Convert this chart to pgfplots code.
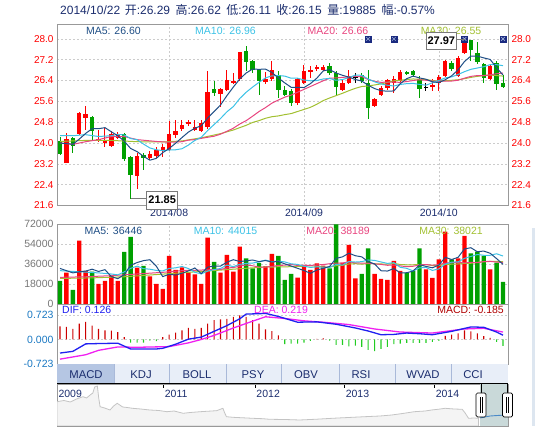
\documentclass[border=0pt]{standalone}
\usepackage{pgfplots}
\pgfplotsset{compat=1.18}
\usepackage{pgfplotstable}
\usepackage{fontspec}
\setmainfont{Liberation Sans}
\newfontfamily\cjk{Noto Sans CJK SC}

\definecolor{cred}{HTML}{FF0000}
\definecolor{cgreen}{HTML}{00A000}
\definecolor{navy}{HTML}{1B2D6E}
\definecolor{ma5}{HTML}{1F4E85}
\definecolor{ma10}{HTML}{3CC2E6}
\definecolor{ma20}{HTML}{E8457F}
\definecolor{ma30}{HTML}{A2C031}
\definecolor{framec}{HTML}{999999}
\definecolor{gridc}{HTML}{CCCCCC}
\definecolor{volc}{HTML}{777777}
\definecolor{macdlab}{HTML}{1A78C2}
\definecolor{difc}{HTML}{2020F0}
\definecolor{deac}{HTML}{F020F0}
\definecolor{macdt}{HTML}{B00000}
\definecolor{histr}{HTML}{CC0000}
\definecolor{histg}{HTML}{22CC22}
\definecolor{tabbg}{HTML}{E8EEF8}
\definecolor{tabact}{HTML}{B5C6E3}
\definecolor{tabsep}{HTML}{A9B9D9}
\definecolor{navline}{HTML}{C4C4C4}
\definecolor{navfill}{HTML}{F4F4F4}
\definecolor{navwin}{HTML}{C9D9D9}
\definecolor{navblue}{HTML}{4A8AC8}
\definecolor{mkr}{HTML}{1A2A80}
\definecolor{mkrx}{HTML}{A0B0D8}
\definecolor{strip}{HTML}{DDE6F0}

% red (up) candles: index open high low close volume
\pgfplotstableread{
i o h l c v
1 23.24 24.40 23.22 24.17 28200
3 24.33 25.20 24.30 25.14 57000
4 24.97 25.42 24.50 25.10 29700
6 24.12 24.50 24.05 24.17 18000
7 24.01 24.58 23.85 24.10 20700
8 23.88 24.45 23.85 24.33 25500
9 24.20 24.42 24.15 24.36 20700
12 22.75 23.60 22.24 23.52 32700
14 23.42 23.70 23.35 23.59 24800
15 23.51 23.85 23.42 23.75 18000
16 23.69 23.95 23.45 23.84 13600
17 23.75 24.84 23.70 24.33 43200
18 24.29 24.90 24.20 24.46 30600
19 24.52 24.90 24.45 24.68 33000
20 24.72 24.90 24.65 24.80 28500
21 24.50 24.90 24.45 24.60 26700
22 24.47 24.90 24.42 24.76 18000
23 24.60 26.78 24.55 25.95 59700
25 25.88 26.12 25.40 26.06 28200
26 26.05 26.80 26.00 26.42 44300
27 26.33 26.68 26.25 26.38 29100
28 26.46 27.50 26.40 27.50 51600
32 26.36 26.72 26.28 26.45 34000
33 26.46 27.14 26.40 26.82 45000
37 25.54 26.50 25.47 26.44 23700
38 26.31 27.01 26.25 26.78 35100
39 26.72 26.97 26.50 26.79 30600
40 26.86 27.01 26.76 26.92 36600
41 26.82 26.98 26.78 26.92 34500
44 26.03 26.44 25.99 26.31 37200
45 26.31 26.82 26.25 26.56 53100
49 25.41 25.72 25.38 25.69 27000
50 25.86 26.20 25.80 26.12 22500
51 26.12 26.46 26.05 26.41 21600
52 26.31 26.56 25.92 26.44 38700
53 26.37 26.82 26.30 26.72 29700
58 26.15 26.44 25.99 26.24 23400
59 26.31 26.63 25.99 26.54 40200
60 26.59 27.20 26.55 27.14 65100
62 26.59 27.33 26.55 27.27 41100
63 27.46 27.91 27.40 27.85 61200
67 26.46 27.00 26.43 26.97 31200
}\upT

% green (down) candles
\pgfplotstableread{
i o h l c v
0 24.09 24.25 23.55 23.59 20700
2 24.20 24.22 23.62 23.87 12600
5 25.01 25.05 24.07 24.46 29100
10 24.33 24.40 23.30 23.37 47000
11 23.45 23.50 21.85 22.78 60500
13 23.55 23.62 22.97 23.43 34200
24 26.06 26.38 25.80 25.93 38000
29 27.53 27.72 26.75 27.10 41000
30 27.15 27.20 26.70 26.79 32000
31 26.82 26.82 25.86 26.37 37000
34 26.63 26.76 25.73 26.05 43300
35 26.05 26.18 25.82 25.86 21600
36 26.01 26.08 25.41 25.54 27000
42 26.97 27.08 26.60 26.69 32100
43 26.69 26.75 25.86 26.15 71700
47 26.63 26.70 26.30 26.37 27000
48 26.31 26.82 24.92 25.35 50100
54 26.72 26.78 26.60 26.68 28200
55 26.77 26.80 26.55 26.60 30000
56 26.46 26.59 25.73 26.08 50100
61 27.08 27.14 26.76 26.85 40200
64 27.95 27.97 27.15 27.59 45600
65 27.44 27.87 27.05 27.13 47100
66 27.05 27.08 26.31 26.50 43200
68 27.08 27.14 26.05 26.28 37200
69 26.29 26.62 26.11 26.15 19885
}\dnT

% flat candles
\pgfplotstableread{
i o h l c v
46 26.50 26.69 26.31 26.50 23100
57 26.15 26.30 26.00 26.15 31200
}\flT

\pgfplotsset{
  panel/.style={scale only axis, width=451pt, anchor=south west,
    xmin=-0.47, xmax=69.78,
    axis line style={draw=framec, line width=0.8pt},
    major tick length=0pt,
    /pgf/number format/assume math mode=true,
    grid style={draw=gridc, dash pattern=on 2pt off 2pt, line width=0.6pt},
    tick label style={font=\fontsize{10}{12}\selectfont}},
  wick/.style={only marks, no markers, mark size=0pt, forget plot, error bars/.cd, y dir=both, y explicit, error mark=none, error bar style={line width=1pt, draw=#1}},
  body/.style={only marks, no markers, mark size=0pt, forget plot, error bars/.cd, y dir=both, y explicit, error mark=none, error bar style={line width=4.4pt, draw=#1}},
}

\begin{document}
\begin{tikzpicture}
\useasboundingbox (0pt,0pt) rectangle (535pt,430pt);
\fill[strip] (532pt,4pt) rectangle (535pt,202pt);

% ---------------- price panel ----------------
\begin{axis}[panel, at={(57pt,224.5pt)}, height=181.2pt, ymin=21.6, ymax=28.56,
  ytick={21.6,22.4,23.2,24.0,24.8,25.6,26.4,27.2,28.0},
  yticklabels={21.6,22.4,23.2,24.0,24.8,25.6,26.4,27.2,28.0},
  yticklabel style={text=cred},
  xtick={17,38,59}, xticklabels={2014/08,2014/09,2014/10},
  xticklabel style={text=navy, font=\fontsize{10.5}{12}\selectfont},
  xmajorgrids, ymajorgrids]
\addplot[wick=cred] table[x=i, y expr={(\thisrow{h}+\thisrow{l})/2}, y error expr={(\thisrow{h}-\thisrow{l})/2}] {\upT};
\addplot[body=cred] table[x=i, y expr={(\thisrow{o}+\thisrow{c})/2}, y error expr={abs(\thisrow{o}-\thisrow{c})/2}] {\upT};
\addplot[wick=cgreen] table[x=i, y expr={(\thisrow{h}+\thisrow{l})/2}, y error expr={(\thisrow{h}-\thisrow{l})/2}] {\dnT};
\addplot[body=cgreen] table[x=i, y expr={(\thisrow{o}+\thisrow{c})/2}, y error expr={abs(\thisrow{o}-\thisrow{c})/2}] {\dnT};
\addplot[wick=black] table[x=i, y expr={(\thisrow{h}+\thisrow{l})/2}, y error expr={(\thisrow{h}-\thisrow{l})/2}] {\flT};
\addplot[only marks, mark=-, mark size=2.3pt, mark options={line width=1pt, draw=black}, forget plot] table[x=i, y=c] {\flT};
% MA lines
\addplot[ma30, line width=1pt] coordinates {(0,24.06) (4,24.10) (8,24.10) (12,24.05) (16,24.04) (19,24.08) (22,24.20) (25,24.36) (27,24.50) (29,24.68) (30,24.79) (31,24.86) (32,24.95) (33,25.01) (34,25.04) (35,25.09) (36,25.13) (37,25.21) (38,25.29) (39,25.37) (40,25.49) (41,25.63) (42,25.73) (43,25.82) (44,25.91) (45,26.01) (46,26.10) (47,26.17) (48,26.19) (49,26.23) (50,26.27) (51,26.33) (52,26.39) (53,26.41) (54,26.44) (55,26.46) (56,26.45) (57,26.44) (58,26.40) (59,26.38) (60,26.39) (61,26.41) (62,26.43) (63,26.47) (64,26.52) (65,26.56) (66,26.59) (67,26.61) (68,26.59) (69,26.57)};
\addplot[ma20, line width=1pt] coordinates {(0,24.00) (2,23.95) (4,24.05) (6,24.13) (8,24.25) (10,24.25) (12,24.13) (15,24.06) (17,24.03) (19,24.05) (20,24.11) (21,24.13) (22,24.18) (23,24.22) (24,24.26) (25,24.34) (26,24.45) (27,24.57) (28,24.73) (29,24.86) (30,25.03) (31,25.21) (32,25.36) (33,25.53) (34,25.65) (35,25.76) (36,25.84) (37,25.95) (38,26.06) (39,26.17) (40,26.28) (41,26.39) (42,26.49) (43,26.50) (44,26.52) (45,26.54) (46,26.55) (47,26.55) (48,26.44) (49,26.37) (50,26.33) (51,26.34) (52,26.34) (53,26.33) (54,26.36) (55,26.40) (56,26.43) (57,26.41) (58,26.38) (59,26.37) (60,26.38) (61,26.38) (62,26.41) (63,26.49) (64,26.56) (65,26.59) (66,26.59) (67,26.62) (68,26.66) (69,26.69)};
\addplot[ma10, line width=1pt] coordinates {(0,24.28) (2,24.28) (4,24.32) (6,24.25) (8,24.28) (9,24.33) (10,24.31) (11,24.17) (12,24.13) (13,23.96) (14,23.81) (15,23.74) (16,23.71) (17,23.73) (18,23.74) (19,23.78) (20,23.92) (21,24.10) (22,24.22) (23,24.48) (24,24.71) (25,24.94) (26,25.20) (27,25.40) (28,25.71) (29,25.95) (30,26.15) (31,26.33) (32,26.50) (33,26.58) (34,26.59) (35,26.57) (36,26.49) (37,26.49) (38,26.42) (39,26.39) (40,26.40) (41,26.46) (42,26.48) (43,26.41) (44,26.44) (45,26.51) (46,26.61) (47,26.60) (48,26.46) (49,26.35) (50,26.27) (51,26.22) (52,26.19) (53,26.25) (54,26.28) (55,26.29) (56,26.25) (57,26.22) (58,26.31) (59,26.40) (60,26.50) (61,26.54) (62,26.63) (63,26.74) (64,26.83) (65,26.88) (66,26.93) (67,27.01) (68,27.01) (69,26.97)};
\addplot[ma5, line width=1pt] coordinates {(0,24.00) (2,23.95) (3,24.15) (4,24.37) (5,24.55) (6,24.55) (7,24.59) (8,24.43) (9,24.28) (10,24.07) (11,23.79) (12,23.67) (13,23.49) (14,23.34) (15,23.41) (16,23.63) (17,23.79) (18,23.99) (19,24.21) (20,24.42) (21,24.57) (22,24.66) (23,24.96) (24,25.21) (25,25.46) (26,25.82) (27,26.15) (28,26.46) (29,26.69) (30,26.84) (31,26.83) (32,26.84) (33,26.71) (34,26.50) (35,26.31) (36,26.14) (37,26.14) (38,26.13) (39,26.28) (40,26.49) (41,26.77) (42,26.82) (43,26.69) (44,26.60) (45,26.53) (46,26.44) (47,26.38) (48,26.22) (49,26.09) (50,26.01) (51,25.99) (52,26.00) (53,26.28) (54,26.47) (55,26.57) (56,26.50) (57,26.45) (58,26.35) (59,26.32) (60,26.43) (61,26.58) (62,26.81) (63,27.13) (64,27.34) (65,27.34) (66,27.27) (67,27.21) (68,26.89) (69,26.61)};
% event markers
\addplot[only marks, mark=square*, mark size=2.9pt, mark options={fill=mkr, draw=mkr}] coordinates {(48,28.0) (52,28.0) (63,28.0) (69,28.0)};
\addplot[only marks, mark=x, mark size=2.6pt, mark options={draw=mkrx, line width=0.6pt}] coordinates {(48,28.0) (52,28.0) (63,28.0) (69,28.0)};
\end{axis}
% right-hand price labels
\begin{axis}[panel, at={(57pt,224.5pt)}, height=181.2pt, ymin=21.6, ymax=28.56,
  axis x line=none, axis y line*=right, axis line style={draw=none},
  ytick={21.6,22.4,23.2,24.0,24.8,25.6,26.4,27.2,28.0},
  yticklabels={21.6,22.4,23.2,24.0,24.8,25.6,26.4,27.2,28.0},
  yticklabel style={text=cred}]
\addplot[draw=none] coordinates {(0,25)};
\end{axis}

% ---------------- volume panel ----------------
\begin{axis}[panel, at={(57pt,126pt)}, height=80pt, ymin=0, ymax=72000,
  scaled y ticks=false,
  ytick={0,18000,36000,54000,72000}, yticklabels={0,18000,36000,54000,72000},
  yticklabel style={text=volc, font=\fontsize{10.5}{12}\selectfont},
  xtick={17,38,59}, xticklabels={}, xmajorgrids, ymajorgrids]
\addplot[ybar, bar width=4.4pt, bar shift=0pt, fill=cred, draw=none] table[x=i, y=v] {\upT};
\addplot[ybar, bar width=4.4pt, bar shift=0pt, fill=cred, draw=none] table[x=i, y=v] {\flT};
\addplot[ybar, bar width=4.4pt, bar shift=0pt, fill=cgreen, draw=none] table[x=i, y=v] {\dnT};
\addplot[ma30, line width=1pt] coordinates {(0,23000) (5,23500) (10,24500) (15,26500) (20,28500) (25,30500) (29,32163) (30,32540) (31,32833) (32,33547) (33,33147) (34,33600) (35,33350) (36,33650) (37,33750) (38,34070) (39,34400) (40,34053) (41,33187) (42,33167) (43,34417) (44,34830) (45,36000) (46,36317) (47,35777) (48,36427) (49,36227) (50,36027) (51,35857) (52,36547) (53,35547) (54,35220) (55,35280) (56,35473) (57,35543) (58,34603) (59,34577) (60,35680) (61,35787) (62,36023) (63,36563) (64,36640) (65,37490) (66,38030) (67,38280) (68,38350) (69,37993)};
\addplot[ma20, line width=1pt] coordinates {(0,24000) (4,24500) (8,25500) (12,27000) (16,28500) (19,29990) (20,30380) (21,30305) (22,30575) (23,30710) (24,31125) (25,31080) (26,32395) (27,32815) (28,34120) (29,35135) (30,34385) (31,33210) (32,33275) (33,33815) (34,34740) (35,34920) (36,35590) (37,34615) (38,34840) (39,34720) (40,35125) (41,35515) (42,36220) (43,36820) (44,36780) (45,38025) (46,36965) (47,36860) (48,36785) (49,36085) (50,35610) (51,34840) (52,35075) (53,34310) (54,33555) (55,33975) (56,35130) (57,35505) (58,34920) (59,35400) (60,36825) (61,37110) (62,37560) (63,37035) (64,37455) (65,37155) (66,38160) (67,38370) (68,37725) (69,37369)};
\addplot[ma10, line width=1pt] coordinates {(0,30000) (3,29000) (6,28000) (8,27000) (9,26220) (10,28850) (11,32080) (12,34090) (13,31810) (14,31320) (15,30210) (16,29770) (17,32020) (18,32530) (19,33760) (20,31910) (21,28530) (22,27060) (23,29610) (24,30930) (25,31950) (26,35020) (27,33610) (28,35710) (29,36510) (30,36860) (31,37890) (32,39490) (33,38020) (34,38550) (35,37890) (36,36160) (37,35620) (38,33970) (39,32930) (40,33390) (41,33140) (42,32950) (43,35620) (44,35010) (45,38160) (46,37770) (47,38100) (48,39600) (49,39240) (50,37830) (51,36540) (52,37200) (53,33000) (54,32100) (55,29790) (56,32490) (57,32910) (58,30240) (59,31560) (60,35820) (61,37680) (62,37920) (63,41070) (64,42810) (65,44520) (66,43830) (67,43830) (68,45210) (69,43179)};
\addplot[ma5, line width=1pt] coordinates {(0,32000) (1,30000) (2,28000) (3,29000) (4,29640) (5,31320) (6,29280) (7,30900) (8,24600) (9,22800) (10,26380) (11,34880) (12,37280) (13,39020) (14,39840) (15,34040) (16,24660) (17,26760) (18,26040) (19,27680) (20,29780) (21,32400) (22,27360) (23,33180) (24,34180) (25,34120) (26,37640) (27,39860) (28,38240) (29,38840) (30,39600) (31,38140) (32,39120) (33,37800) (34,38260) (35,36180) (36,34180) (37,32120) (38,30140) (39,27600) (40,30600) (41,32100) (42,33780) (43,41100) (44,42420) (45,45720) (46,43440) (47,42420) (48,38100) (49,36060) (50,29940) (51,29640) (52,31980) (53,27900) (54,28140) (55,29640) (56,35340) (57,33840) (58,32580) (59,34980) (60,42000) (61,40020) (62,42000) (63,49560) (64,50640) (65,47040) (66,47640) (67,45660) (68,40860) (69,35717)};
\end{axis}

% ---------------- MACD panel ----------------
\begin{axis}[panel, at={(57pt,66pt)}, height=60pt, ymin=-0.723, ymax=1.047,
  ytick={-0.723,0,0.723}, yticklabels={-0.723,0.000,0.723},
  yticklabel style={text=macdlab, font=\fontsize{10.5}{12}\selectfont},
  xtick=\empty, ymajorgrids]
\addplot[ybar, bar width=1.1pt, bar shift=0pt, fill=histr, draw=none] coordinates {(0,0.39) (1,0.37) (2,0.31) (3,0.47) (4,0.52) (5,0.41) (6,0.31) (7,0.27) (8,0.26) (9,0.22) (10,0.07) (16,0.07) (17,0.14) (18,0.20) (19,0.27) (20,0.34) (21,0.31) (22,0.34) (23,0.47) (24,0.57) (25,0.59) (26,0.61) (27,0.67) (28,0.71) (29,0.67) (30,0.57) (31,0.47) (32,0.30) (33,0.25) (34,0.12) (40,0.02) (41,0.03) (60,0.11) (61,0.14) (62,0.18) (63,0.27) (64,0.24) (65,0.18) (66,0.10) (67,0.05)};
\addplot[ybar, bar width=1.1pt, bar shift=0pt, fill=histg, draw=none] coordinates {(11,-0.09) (12,-0.09) (13,-0.09) (14,-0.03) (15,-0.05) (35,-0.14) (36,-0.12) (37,-0.12) (38,-0.09) (39,-0.04) (42,-0.03) (43,-0.16) (44,-0.16) (45,-0.20) (46,-0.18) (47,-0.22) (48,-0.31) (49,-0.34) (50,-0.28) (51,-0.22) (52,-0.14) (53,-0.12) (54,-0.10) (55,-0.10) (56,-0.10) (57,-0.10) (58,-0.07) (59,-0.04) (68,-0.07) (69,-0.185)};
\addplot[deac, line width=1.3pt] coordinates {(0,-0.58) (4,-0.45) (6,-0.32) (9,-0.22) (12,-0.23) (17,-0.21) (20,-0.10) (22,0.00) (24,0.12) (27,0.34) (30,0.54) (32,0.67) (35,0.62) (38,0.55) (41,0.51) (45,0.44) (49,0.31) (53,0.22) (58,0.19) (63,0.31) (66,0.33) (69,0.219)};
\addplot[difc, line width=1.3pt] coordinates {(0,-0.40) (2,-0.35) (4,-0.13) (6,-0.12) (9,-0.11) (11,-0.28) (15,-0.28) (16,-0.26) (18,-0.14) (20,0.01) (22,0.07) (24,0.24) (26,0.41) (28,0.61) (29,0.75) (31,0.76) (32,0.77) (34,0.68) (37,0.51) (40,0.52) (43,0.45) (46,0.34) (48,0.25) (50,0.14) (52,0.15) (54,0.19) (56,0.17) (58,0.14) (61,0.24) (64,0.37) (66,0.36) (68,0.22) (69,0.126)};
\end{axis}

% ---------------- navigator ----------------
\begin{axis}[scale only axis, width=451pt, height=42pt, at={(57pt,4pt)}, anchor=south west,
  xmin=2009.823, xmax=2014.817, ymin=0, ymax=42,
  axis line style={draw=framec, line width=0.8pt},
  ytick=\empty,
  xtick={2009.823,2011,2012.015,2013.004,2014}, xticklabels={2009,2011,2012,2013,2014},
  xtick pos=right, xticklabel pos=right,
  major tick length=4pt, tick align=inside, tick style={draw=black, line width=0.8pt},
  xticklabel style={anchor=north west, text=navy, font=\fontsize{10.5}{12}\selectfont, yshift=-2.5pt, xshift=-2pt}]
\addplot[fill=navfill, draw=navline, line width=0.8pt] coordinates {(2009.823,24.3) (2009.90,25.5) (2009.97,24) (2010.04,27) (2010.11,29.3) (2010.15,28) (2010.19,31) (2010.22,33) (2010.24,39) (2010.27,40) (2010.285,28) (2010.30,19.3) (2010.35,18) (2010.41,16) (2010.45,20) (2010.49,22.7) (2010.55,19) (2010.60,18.5) (2010.66,17.7) (2010.75,17) (2010.85,16) (2010.95,15.5) (2011.04,14.3) (2011.12,15) (2011.22,12.7) (2011.30,13.5) (2011.41,14.3) (2011.50,14.8) (2011.59,15.3) (2011.66,17.7) (2011.68,13) (2011.70,9.3) (2011.77,8.7) (2011.88,8.2) (2011.99,7.7) (2012.10,7.3) (2012.18,6.7) (2012.35,6.5) (2012.51,6) (2012.70,6.8) (2012.87,7.7) (2013.05,8.5) (2013.23,9.3) (2013.40,10) (2013.53,11) (2013.65,12.5) (2013.78,14.3) (2013.90,15) (2013.97,16) (2014.05,16.8) (2014.12,17.7) (2014.22,17) (2014.31,16.7) (2014.34,13.3) (2014.38,7.7) (2014.44,8) (2014.49,7.7)} \closedcycle;
\addplot[fill=navwin, draw=none] coordinates {(2014.51,0) (2014.51,42) (2014.817,42) (2014.817,0)} -- cycle;
\addplot[navblue, line width=0.9pt] coordinates {(2014.51,8) (2014.56,9) (2014.62,10) (2014.70,10.5) (2014.79,11) (2014.817,11)};
\end{axis}
\draw[black, line width=1pt] (57pt,46pt) -- (508pt,46pt);
\draw[black, line width=0.8pt] (481pt,46pt) -- (481pt,37pt);
\draw[black, line width=0.8pt] (507.5pt,46pt) -- (507.5pt,37pt);
\draw[black, line width=0.7pt, fill=white, rounded corners=1.5pt] (476pt,13pt) rectangle (486pt,37pt);
\draw[black, line width=0.7pt] (480pt,17pt) -- (480pt,33pt) (482pt,17pt) -- (482pt,33pt);
\draw[black, line width=0.7pt, fill=white, rounded corners=1.5pt] (502.5pt,13pt) rectangle (512.5pt,37pt);
\draw[black, line width=0.7pt] (506.5pt,17pt) -- (506.5pt,33pt) (508.5pt,17pt) -- (508.5pt,33pt);

% ---------------- tab bar ----------------
\fill[tabbg] (57pt,47pt) rectangle (508pt,66pt);
\fill[tabact] (57pt,47pt) rectangle (114pt,66pt);
\foreach \xx in {114,169.3,226,281.7,339,395,451} {\draw[tabsep, line width=0.8pt] (\xx pt,47pt) -- (\xx pt,66pt);}
\begin{scope}[every node/.style={anchor=base, inner sep=0pt, text=navy, font=\fontsize{11.3}{13}\selectfont}]
\node at (86pt,51.7pt) {MACD};
\node at (141pt,51.7pt) {KDJ};
\node at (197pt,51.7pt) {BOLL};
\node at (253pt,51.7pt) {PSY};
\node at (306pt,51.7pt) {OBV};
\node at (361pt,51.7pt) {RSI};
\node at (423pt,51.7pt) {WVAD};
\node at (473pt,51.7pt) {CCI};
\end{scope}

% ---------------- texts ----------------
\node[anchor=base west, inner sep=0pt, text=navy, font=\fontsize{12}{14}\selectfont] at (60pt,415pt)
  {2014/10/22\hspace{4.5pt}{\cjk 开}:26.29\hspace{5.5pt}{\cjk 高}:26.62\hspace{5.5pt}{\cjk 低}:26.11\hspace{5.5pt}{\cjk 收}:26.15\hspace{5.5pt}{\cjk 量}:19885\hspace{5.5pt}{\cjk 幅}:-0.57\%};
\begin{scope}[every node/.style={anchor=base, inner sep=0pt, font=\fontsize{10.5}{12}\selectfont}]
\node[text=ma5] at (113.4pt,395.7pt) {MA5: 26.60};
\node[text=ma10] at (225.5pt,395.7pt) {MA10: 26.96};
\node[text=ma20] at (338pt,395.7pt) {MA20: 26.66};
\node[text=ma30] at (451pt,395.7pt) {MA30: 26.55};
\node[text=ma5] at (113.4pt,195pt) {MA5: 36446};
\node[text=ma10] at (225.5pt,195pt) {MA10: 44015};
\node[text=ma20] at (338pt,195pt) {MA20: 38189};
\node[text=ma30] at (451pt,195pt) {MA30: 38021};
\node[anchor=base west, text=difc] at (62pt,116pt) {DIF: 0.126};
\node[anchor=base west, text=deac] at (254pt,116pt) {DEA: 0.219};
\node[anchor=base east, text=macdt] at (504pt,116pt) {MACD: -0.185};
\end{scope}
% annotation boxes
\draw[framec!80!black, line width=0.7pt] (131pt,231.5pt) -- (147pt,231.5pt);
\node[draw=framec!80!black, line width=0.8pt, fill=white, inner sep=0pt, minimum width=31pt, minimum height=18pt, font=\bfseries\fontsize{11}{12}\selectfont] at (162.2pt,230pt) {21.85};
\draw[framec!80!black, line width=0.7pt] (456pt,390.5pt) -- (465pt,390.5pt);
\node[draw=framec!80!black, line width=0.8pt, fill=white, inner sep=0pt, minimum width=30pt, minimum height=17pt, font=\bfseries\fontsize{11}{12}\selectfont] at (441.3pt,389.3pt) {27.97};
\end{tikzpicture}
\end{document}
